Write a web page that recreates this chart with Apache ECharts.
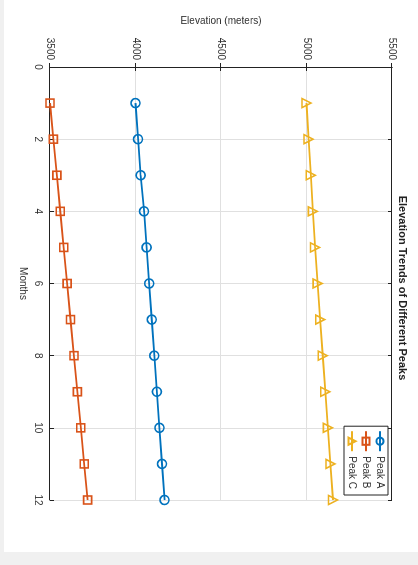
<!DOCTYPE html>
<html>
<head>
<meta charset="utf-8">
<script src="https://cdn.jsdelivr.net/npm/echarts@6/dist/echarts.min.js"></script>
<style>
html,body{margin:0;padding:0;background:#f0f0f0;width:418px;height:565px;overflow:hidden;}
#chart{position:absolute;left:0;top:0;width:552px;height:414px;background:#fff;transform-origin:0 0;transform:translateX(418px) rotate(90deg);}
</style>
</head>
<body>
<div id="chart"></div>
<script>
const months = [1,2,3,4,5,6,7,8,9,10,11,12];
const peakA = [4000,4015,4030,4050,4065,4080,4095,4110,4125,4140,4155,4170];
const peakB = [3500,3520,3540,3560,3580,3600,3620,3640,3660,3680,3700,3720];
const peakC = [5000,5012,5025,5037,5050,5065,5080,5095,5110,5125,5140,5155];
const seriesNames = ['Peak A','Peak B','Peak C'];
const colors = ['#0072BD','#D95319','#EDB120'];
const symbols = ['circle','rect','triangle'];

const chart = echarts.init(document.getElementById('chart'), null, {renderer:'canvas'});
const allData = [peakA, peakB, peakC];
const series = allData.map((d, i) => ({
  name: seriesNames[i],
  type: 'line',
  data: months.map((m, j) => [m, d[j]]),
  symbol: symbols[i],
  symbolSize: symbols[i]==='rect' ? 8 : 9,
  showAllSymbol: true,
  lineStyle: {color: colors[i], width: 1.8},
  itemStyle: {color: 'rgba(0,0,0,0)', borderColor: colors[i], borderWidth: 1.6},
  emphasis: {disabled: true},
  animation: false
}));
const txt = '#333';
const font = 'Liberation Sans, Arial';
chart.setOption({
  animation: false,
  title: {
    text: 'Elevation Trends of Different Peaks',
    left: 283, top: 5, textAlign: 'center',
    textStyle: {fontSize: 11, fontWeight: 'bold', color: '#222', fontFamily: font}
  },
  legend: {
    orient: 'vertical',
    right: 57, top: 30,
    data: seriesNames,
    itemWidth: 20, itemHeight: 9, itemGap: 4,
    padding: [3,6,3,4],
    borderColor: '#222', borderWidth: 1, backgroundColor: '#fff',
    textStyle: {fontSize: 10, color: txt, fontFamily: font}
  },
  grid: {left: 67, right: 52, top: 26, bottom: 46, containLabel: false},
  xAxis: [{
    type: 'value', min: 0, max: 12, interval: 2, position: 'bottom',
    name: 'Months', nameLocation: 'middle', nameGap: 22,
    nameTextStyle: {fontSize: 10, color: txt, fontFamily: font},
    axisLine: {show: true, lineStyle: {color: '#222', width: 1}},
    axisTick: {show: true, inside: true, length: 4, lineStyle: {color: '#222'}},
    axisLabel: {fontSize: 10, color: txt, margin: 7, fontFamily: font, formatter: v => String(v)},
    splitLine: {show: true, lineStyle: {color: '#e0e0e0', width: 1}}
  },{
    type: 'value', min: 0, max: 12, interval: 2, position: 'top',
    axisLine: {show: true, lineStyle: {color: '#222', width: 1}},
    axisTick: {show: true, inside: true, length: 4, lineStyle: {color: '#222'}},
    axisLabel: {show: false}, splitLine: {show: false}
  }],
  yAxis: [{
    type: 'value', min: 3500, max: 5500, interval: 500, position: 'left',
    name: 'Elevation (meters)', nameLocation: 'middle', nameGap: 41,
    nameTextStyle: {fontSize: 10, color: txt, fontFamily: font},
    axisLine: {show: true, lineStyle: {color: '#222', width: 1}},
    axisTick: {show: true, inside: true, length: 4, lineStyle: {color: '#222'}},
    axisLabel: {fontSize: 10, color: txt, margin: 7, fontFamily: font, formatter: v => String(v)},
    splitLine: {show: true, lineStyle: {color: '#e0e0e0', width: 1}}
  },{
    type: 'value', min: 3500, max: 5500, interval: 500, position: 'right',
    axisLine: {show: true, lineStyle: {color: '#222', width: 1}},
    axisTick: {show: true, inside: true, length: 4, lineStyle: {color: '#222'}},
    axisLabel: {show: false}, splitLine: {show: false}
  }],
  series: series
});
</script>
</body>
</html>
